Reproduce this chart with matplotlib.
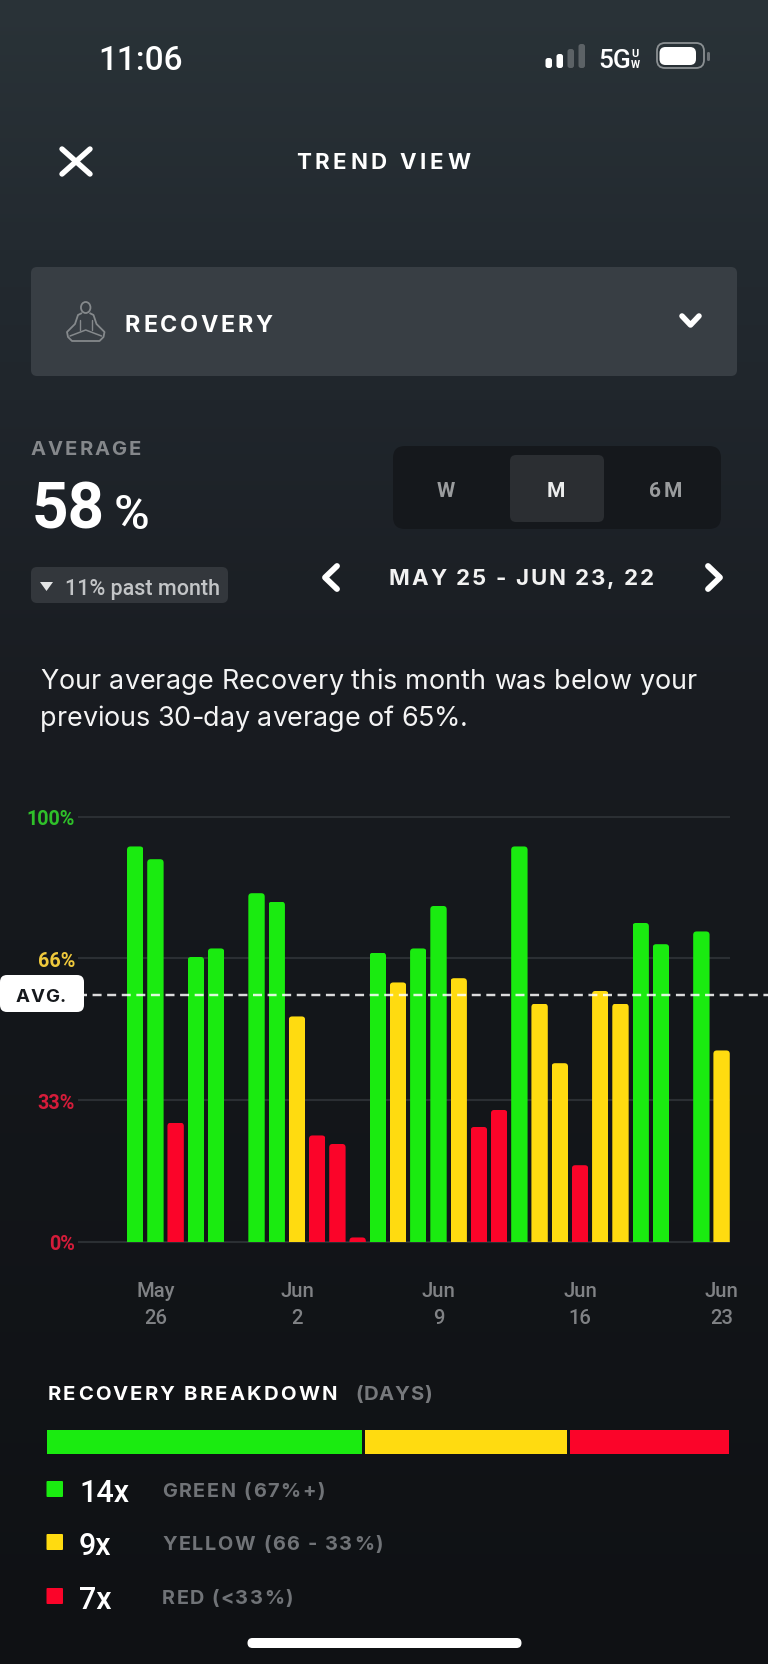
import matplotlib
matplotlib.use('Agg')
import matplotlib.pyplot as plt
import numpy as np
from matplotlib.colors import to_rgb
from matplotlib.patches import FancyBboxPatch, PathPatch, Ellipse, Polygon
from matplotlib.path import Path
from matplotlib.text import Text

W, H = 768, 1665

# Datos
days = list(range(30))
recovery = [93, 90, 28, 67, 69, None, 82, 80, 53, 25, 23, 1, 68, 61, 69,
            79, 62, 27, 31, 93, 56, 42, 18, 59, 56, 75, 70, None, 73, 45]
zones = ['g', 'g', 'r', 'g', 'g', None, 'g', 'g', 'y', 'r', 'r', 'r', 'g', 'y', 'g',
         'g', 'y', 'r', 'r', 'g', 'y', 'y', 'r', 'y', 'y', 'g', 'g', None, 'g', 'y']
average = 58
y_ticks = [0, 33.3, 66.7, 100]
y_labels = ['0%', '33%', '66%', '100%']
x_ticks = [1, 8, 15, 22, 29]
x_labels = ['May\n26', 'Jun\n2', 'Jun\n9', 'Jun\n16', 'Jun\n23']
breakdown_counts = [14, 9, 7]
breakdown_labels = ['GREEN (67%+)', 'YELLOW (66 - 33%)', 'RED (<33%)']
breakdown_x = ['14x', '9x', '7x']

GREEN = '#1aeb10'
YELLOW = '#ffdb10'
RED = '#fb0429'
zone_colors = {'g': GREEN, 'y': YELLOW, 'r': RED}
y_label_colors = ['#d51c3a', '#d51c3a', '#efc93c', '#2fc02a']
breakdown_colors = [GREEN, YELLOW, RED]

COND = 'Roboto'
HEAD = 'Inter'


class FittedText(Text):
    # texto con espaciado entre letras para ocupar un ancho dado en pixeles
    def __init__(self, x0, x1, y, s, **kw):
        super().__init__(x0, y, s, ha='left', va='baseline', **kw)
        self.x0, self.x1 = x0, x1

    def draw(self, renderer):
        s = self.get_text()

        def adv(t):
            self.set_text(t + '|')
            a = self.get_window_extent(renderer).width
            self.set_text('|')
            return a - self.get_window_extent(renderer).width

        offs = [adv(s[:i]) if i else 0 for i in range(len(s))]
        self.set_text(s)
        ink = self.get_window_extent(renderer).width
        track = (self.x1 - self.x0 - ink) / max(len(s) - 1, 1)
        for i, ch in enumerate(s):
            self.set_text(ch)
            self.set_x(self.x0 + offs[i] + i * track)
            super().draw(renderer)
        self.set_text(s)
        self.set_x(self.x0)


def px_axes(x0, y0, x1, y1, **kw):
    # ejes colocados en pixeles de la imagen
    return fig.add_axes([x0 / W, 1 - y1 / H, (x1 - x0) / W, (y1 - y0) / H], **kw)


fig = plt.figure(figsize=(W / 100, H / 100), dpi=100)

# Fondo con degradado
bg = px_axes(0, 0, W, H, zorder=0)
stops_y = [0, 250, 400, 700, 1000, 1665]
stops_c = [to_rgb(c) for c in ['#2a3338', '#232a30', '#20262c', '#191c21', '#14171b', '#0f1114']]
yy = np.arange(H)
grad = np.stack([np.interp(yy, stops_y, [c[i] for c in stops_c]) for i in range(3)], axis=1)[:, None, :]
bg.imshow(grad, aspect='auto')
bg.axis('off')

# Grafico de barras
ax = px_axes(78, 817.7, 768, 1242.7, zorder=1)
ax.patch.set_alpha(0)
ax.set_xlim((78 - 135.2) / 20.22, (768 - 135.2) / 20.22)
ax.set_ylim(0, 100)
for s in ax.spines.values():
    s.set_visible(False)
ax.hlines(y_ticks, ax.get_xlim()[0], 29.4, color='#2b2f33', lw=1.5, zorder=1, clip_on=False)

shown = [i for i in days if recovery[i] is not None]
bars = ax.bar(shown, [recovery[i] for i in shown], width=0.81,
              color=[zone_colors[zones[i]] for i in shown], zorder=2)
for b in bars:
    # esquinas superiores redondeadas
    clip = FancyBboxPatch((b.get_x(), -5), b.get_width(), b.get_height() + 5,
                          boxstyle='round,pad=0,rounding_size=0.17', mutation_aspect=4.75,
                          transform=ax.transData)
    b.set_clip_path(clip)

ax.axhline(average, color='white', alpha=0.85, lw=1.75, dashes=(3.7, 2.3), zorder=3)

ax.set_yticks(y_ticks, y_labels, fontfamily=COND, fontweight='bold', fontsize=14.2)
for lab, c in zip(ax.get_yticklabels(), y_label_colors):
    lab.set_color(c)
ax.set_xticks(x_ticks, x_labels, fontfamily=COND, fontweight='medium', fontsize=14.6,
              color='#808285', linespacing=1.5)
ax.tick_params(axis='both', length=0)
ax.tick_params(axis='x', pad=28.5)
ax.tick_params(axis='y', pad=2)

# Barra de resumen
br = px_axes(46.5, 1431.3, 729, 1455.3, zorder=1)
gap = 0.13
left = 0
for i, c in enumerate(breakdown_counts):
    br.barh(0.5, c - (gap if i < 2 else 0), left=left, height=1, color=breakdown_colors[i])
    left += c
br.set_xlim(0, sum(breakdown_counts))
br.set_ylim(0, 1)
br.axis('off')

# Capa de interfaz en pixeles
ui = px_axes(0, 0, W, H, zorder=2)
ui.set_xlim(0, W)
ui.set_ylim(H, 0)
ui.axis('off')
ui.patch.set_alpha(0)


def box(x0, y0, x1, y1, r, color, **kw):
    ui.add_patch(FancyBboxPatch((x0 + r, y0 + r), x1 - x0 - 2 * r, y1 - y0 - 2 * r,
                                boxstyle=f'round,pad={r},rounding_size={r}',
                                facecolor=color, edgecolor='none', **kw))


def label(x, y, s, size, color='white', family=COND, weight='bold', ha='left', va='center_baseline'):
    return ui.text(x, y, s, fontsize=size, color=color, family=family, fontweight=weight, ha=ha, va=va)


def fitted(x0, x1, y, s, size, color='white', family=HEAD, weight='bold'):
    t = FittedText(x0, x1, y, s, fontsize=size, color=color, family=family, fontweight=weight)
    ui.add_artist(t)
    return t


def stroke(pts, color='white', lw=3.2):
    xs, ys = zip(*pts)
    ui.plot(xs, ys, color=color, lw=lw, solid_capstyle='round', solid_joinstyle='round')


# Barra de estado
label(98, 57.5, '11:06', 24, weight='medium')
sig_tops = [59, 55, 50, 45]
for i, top in enumerate(sig_tops):
    box(545.5 + 11 * i, top, 552 + 11 * i, 69, 2.5, 'white' if i < 2 else '#5c6266')
label(598, 58, '5G', 19, weight='medium')
label(631, 53, 'U', 8)
label(631, 63.5, 'W', 7.5)
ui.add_patch(FancyBboxPatch((665, 52), 31, 9, boxstyle='round,pad=8,rounding_size=8',
                            facecolor='none', edgecolor='#8b9093', lw=1.3))
box(659.5, 48, 696, 66, 6, 'white')
box(707, 53, 710, 62, 1.4, '#6f7478')

# Cabecera
stroke([(62, 150), (90, 175)], lw=3.9)
stroke([(90, 150), (62, 175)], lw=3.9)
fitted(296, 470, 169, 'TREND VIEW', 16)

# Selector
box(31, 268, 737, 377, 6, '#383e44')
ic = '#85898c'
ui.add_patch(Ellipse((85.7, 308.5), 9.5, 11, facecolor='none', edgecolor=ic, lw=1.3))
body = Path([(82, 314), (78, 316), (75, 325), (67, 333), (68, 338), (72, 342), (99.5, 342),
             (103.5, 338), (104.5, 333), (96.5, 325), (93.5, 316), (89.5, 314)],
            [Path.MOVETO] + [Path.LINETO] * 11)
ui.add_patch(PathPatch(body, facecolor='none', edgecolor=ic, lw=1.3, joinstyle='round'))
stroke([(70, 337), (85.7, 331), (101.5, 337)], color=ic, lw=1.1)
stroke([(80, 321), (80, 331)], color=ic, lw=1.0)
stroke([(91.5, 321), (91.5, 331)], color=ic, lw=1.0)
fitted(125, 273, 332, 'RECOVERY', 16.8)
stroke([(682, 317), (690.5, 326), (699, 317)], lw=4)

# Promedio y selector de periodo
fitted(31, 141, 455, 'AVERAGE', 14.5, color='#85888b')
label(32, 504.5, '58', 46)
label(114, 511, '%', 35, weight='medium')
box(393, 447, 721, 530, 12, '#15181c')
box(510, 456, 604, 523, 6, '#2b2e32')
label(446, 497, 'W', 15, color='#9a9c9e', ha='center', va='baseline')
label(556, 497, 'M', 15, color='#eceded', ha='center', va='baseline')
fitted(649, 682, 497, '6M', 15, color='#9a9c9e', family=COND)

box(31, 568, 228, 604, 6, '#33373c')
ui.add_patch(Polygon([(40, 583), (53, 583), (46.5, 592)], facecolor='#e4e5e6', edgecolor='none'))
label(65, 587, '11% past month', 15.5, color='#c3c5c7', weight='medium')
stroke([(337, 567), (325, 578.5), (337, 590)], lw=4.2)
stroke([(708, 567), (720, 578.5), (708, 590)], lw=4.2)
fitted(389, 654, 585, 'MAY 25 - JUN 23, 22', 16, color='#f2f2f2')

fitted(40, 697, 689, 'Your average Recovery this month was below your', 19.4,
       color='#f4f4f4', weight='normal')
fitted(40, 468, 726, 'previous 30-day average of 65%.', 19.4,
       color='#f4f4f4', weight='normal')

# Etiqueta AVG.
box(0, 976, 84, 1013, 7, 'white')
fitted(16, 66, 1002, 'AVG.', 13.5, color='#15181c')

# Leyenda
fitted(47.5, 337, 1400, 'RECOVERY BREAKDOWN', 14.6)
fitted(355, 432, 1400, '(DAYS)', 14.6, color='#77797c')
label_ends = [325, 383, 293]
for i, y in enumerate([1490, 1543, 1597]):
    box(46.5, y - 8, 63, y + 8, 1, breakdown_colors[i])
    label(79, y + 12, breakdown_x[i], 22, weight='medium', va='baseline')
    fitted(162, label_ends[i], y + 7.5, breakdown_labels[i], 14.3, color='#707377')

# Indicador inferior
box(247.5, 1639, 521.5, 1649, 5, 'white')

fig.savefig('out.png', dpi=100)
